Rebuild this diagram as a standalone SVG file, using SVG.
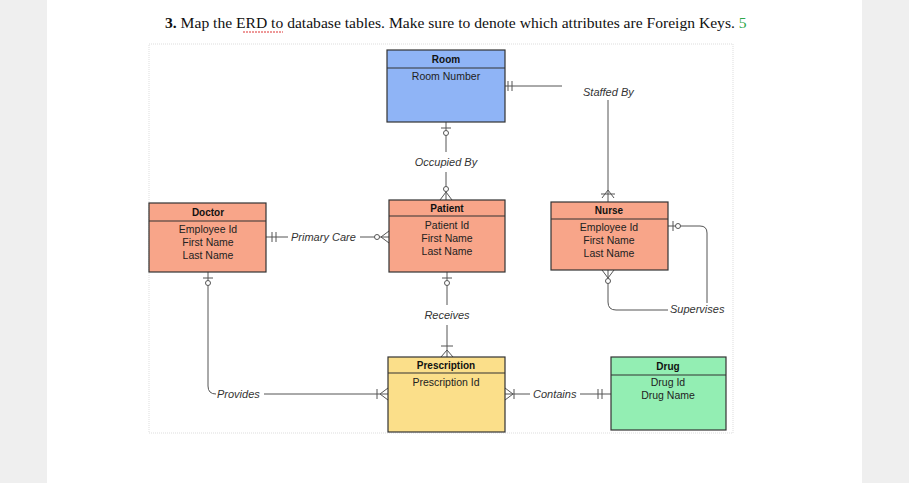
<svg xmlns="http://www.w3.org/2000/svg" width="909" height="483" viewBox="0 0 909 483">
<style>
.ent{stroke:#333;stroke-width:1.2}
.hd{font:bold 10px "Liberation Sans",Arial,sans-serif;fill:#111;text-anchor:middle}
.at{font:10.5px "Liberation Sans",Arial,sans-serif;fill:#222;text-anchor:middle}
.lb{font:italic 11px "Liberation Sans",Arial,sans-serif;fill:#333}
.ln{stroke:#555;stroke-width:1;fill:none}
.ci{stroke:#555;stroke-width:1;fill:#fff}
</style>
<rect width="909" height="483" fill="#efefef"/>
<rect x="47" y="0" width="815" height="483" fill="#fff"/>
<text x="165" y="28" font-family="Liberation Serif,serif" font-size="15.6" fill="#111"><tspan font-weight="bold">3.</tspan>  Map the ERD to database tables. Make sure to denote which attributes are Foreign Keys. <tspan fill="#2ea84a">5</tspan></text>
<path d="M243 32 h40" stroke="#d33" stroke-width="1" stroke-dasharray="2 1"/>
<rect x="149" y="44" width="584" height="389" fill="#fff" stroke="#ddd" stroke-dasharray="1 1"/>
<g id="connectors">
<path class="ln" d="M505 86 H562 M608 100 V202 M602 198 L608 190 L614 198 M601 194 H615"/>
<path class="ln" d="M508 81 V91 M512 81 V91"/>
<path class="ln" d="M446 122 V152 M446 172 V200 M441 128 H451 M440 200 L446 192 L452 200"/>
<circle class="ci" cx="446" cy="133" r="2.5"/><circle class="ci" cx="446" cy="189" r="2.5"/>
<path class="ln" d="M266 237 H288 M360 237 H389 M272 232 V242 M276 232 V242 M389 231 L381 237 L389 243"/>
<circle class="ci" cx="377" cy="237" r="2.5"/>
<path class="ln" d="M208 272 V386 Q208 394 216 394 M264 394 H388 M203 278 H213 M377 389 V399 M388 388 L380 394 L388 400"/>
<circle class="ci" cx="208" cy="283" r="2.5"/>
<path class="ln" d="M447 272 V305 M447 325 V357 M442 278 H452 M441 346 H453 M441 357 L447 350 L453 357"/>
<circle class="ci" cx="447" cy="283" r="2.5"/>
<path class="ln" d="M505 394 H530 M580 394 H611 M505 388 L513 394 L505 400 M514 389 V399 M598 389 V399 M602 389 V399"/>
<path class="ln" d="M608 270 V302 Q608 310 616 310 H668 M602 270 L608 278 L614 270 M668 226 H700 Q707 226 707 233 V303 M673 221 V231"/>
<circle class="ci" cx="608" cy="281" r="2.5"/><circle class="ci" cx="678" cy="226" r="2.5"/>
<text class="lb" x="583" y="96">Staffed By</text>
<text class="lb" x="446" y="166" text-anchor="middle">Occupied By</text>
<text class="lb" x="291" y="241">Primary Care</text>
<text class="lb" x="217" y="398">Provides</text>
<text class="lb" x="447" y="319" text-anchor="middle">Receives</text>
<text class="lb" x="533" y="398">Contains</text>
<text class="lb" x="670" y="313">Supervises</text>
</g>
<g id="room"><rect class="ent" x="387" y="50" width="118" height="72" fill="#8fb4f6"/><path class="ent" d="M387 68 H505"/><text class="hd" x="446" y="63">Room</text><text class="at" x="446" y="80">Room Number</text></g>
<g id="patient"><rect class="ent" x="389" y="200" width="116" height="72" fill="#f8a589"/><path class="ent" d="M389 216 H505"/><text class="hd" x="447" y="212">Patient</text><text class="at" x="447" y="229">Patient Id</text><text class="at" x="447" y="242">First Name</text><text class="at" x="447" y="255">Last Name</text></g>
<g id="doctor"><rect class="ent" x="149" y="203" width="117" height="69" fill="#f8a589"/><path class="ent" d="M149 221 H266"/><text class="hd" x="208" y="216">Doctor</text><text class="at" x="208" y="233">Employee Id</text><text class="at" x="208" y="246">First Name</text><text class="at" x="208" y="259">Last Name</text></g>
<g id="nurse"><rect class="ent" x="551" y="202" width="117" height="68" fill="#f8a589"/><path class="ent" d="M551 219 H668"/><text class="hd" x="609" y="214">Nurse</text><text class="at" x="609" y="231">Employee Id</text><text class="at" x="609" y="244">First Name</text><text class="at" x="609" y="257">Last Name</text></g>
<g id="prescription"><rect class="ent" x="388" y="357" width="117" height="75" fill="#fbdf8a"/><path class="ent" d="M388 373 H505"/><text class="hd" x="446" y="369">Prescription</text><text class="at" x="446" y="386">Prescription Id</text></g>
<g id="drug"><rect class="ent" x="611" y="357" width="115" height="73" fill="#93eeb3"/><path class="ent" d="M611 375 H726"/><text class="hd" x="668" y="370">Drug</text><text class="at" x="668" y="386">Drug Id</text><text class="at" x="668" y="399">Drug Name</text></g>
</svg>
